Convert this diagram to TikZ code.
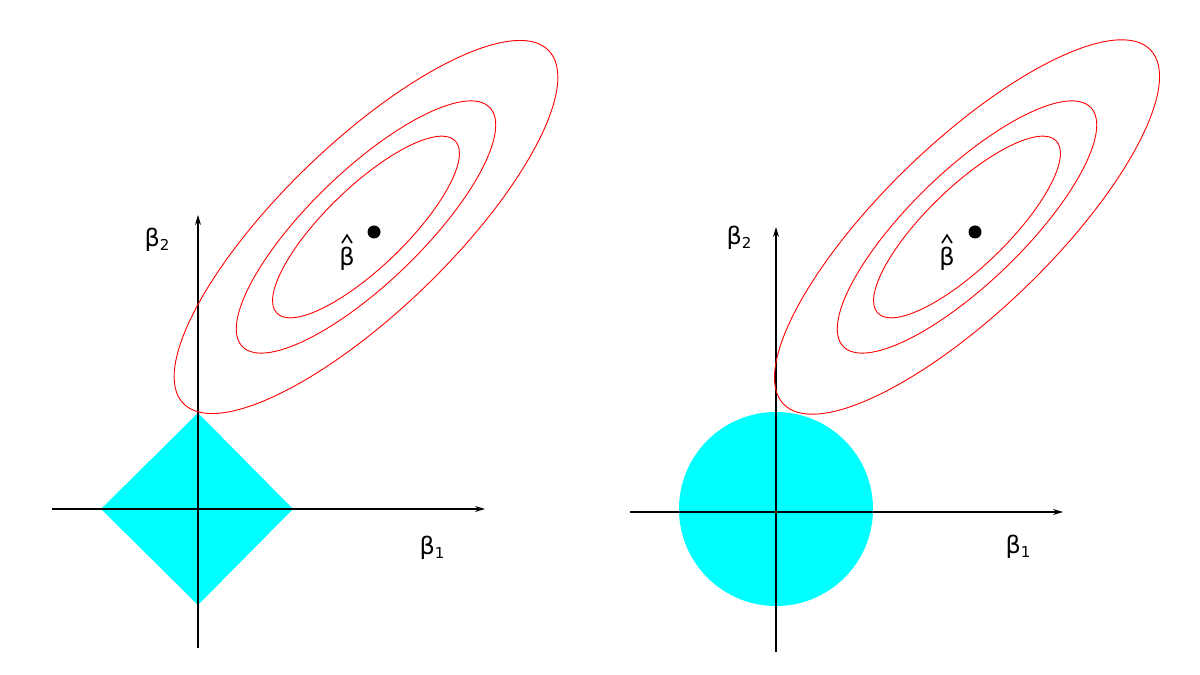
\documentclass[tikz,border=0pt]{standalone}
\usepackage{fontspec}
\setmainfont{DejaVu Sans}
\usetikzlibrary{arrows.meta}
\definecolor{aqua}{RGB}{0,255,255}
\begin{document}
\begin{tikzpicture}[x=1pt,y=1pt,
  ax/.style={line width=1.3pt,-{Stealth[length=10pt,width=6pt]}},
  ell/.style={red,line width=0.9pt},
  hat/.style={line width=1.6pt},
  lab/.style={font=\fontsize{24}{28}\selectfont,inner sep=0pt}]
\useasboundingbox (0,0) rectangle (1200,675);
% left panel
\fill[aqua] (198,262) -- (293,166) -- (198,70) -- (101,166) -- cycle;
\draw[ax] (52,166) -- (485,166);
\draw[ax] (198,27) -- (198,460);
\begin{scope}[shift={(366,448)},rotate=44]
\draw[ell] (0,0) ellipse (254 and 84);
\draw[ell] (0,0) ellipse (172 and 56);
\draw[ell] (0,0) ellipse (124 and 40);
\end{scope}
\fill (374,443) circle (6.5);
\node[lab] (bh1) at (347,416) {β};
\draw[hat] ([shift={(-5,4)}]bh1.north) -- ([shift={(0,12)}]bh1.north) -- ([shift={(5,4)}]bh1.north);
\node[lab] (b2l) at (157,435) {β\raisebox{-4pt}{\fontsize{15}{18}\selectfont 2}};
\node[lab] (b1l) at (432,127) {β\raisebox{-4pt}{\fontsize{15}{18}\selectfont 1}};
% right panel
\fill[aqua] (776,166) circle (97);
\draw[ax] (630,163) -- (1063,163);
\draw[ax] (776,23) -- (776,448);
\begin{scope}[shift={(967,448)},rotate=44]
\draw[ell] (0,0) ellipse (255 and 84);
\draw[ell] (0,0) ellipse (172 and 56);
\draw[ell] (0,0) ellipse (124 and 40);
\end{scope}
\fill (975,443) circle (6.5);
\node[lab] (bh2) at (947,416) {β};
\draw[hat] ([shift={(-5,4)}]bh2.north) -- ([shift={(0,12)}]bh2.north) -- ([shift={(5,4)}]bh2.north);
\node[lab] (b2r) at (739,437) {β\raisebox{-4pt}{\fontsize{15}{18}\selectfont 2}};
\node[lab] (b1r) at (1018,128) {β\raisebox{-4pt}{\fontsize{15}{18}\selectfont 1}};
\end{tikzpicture}
\end{document}
